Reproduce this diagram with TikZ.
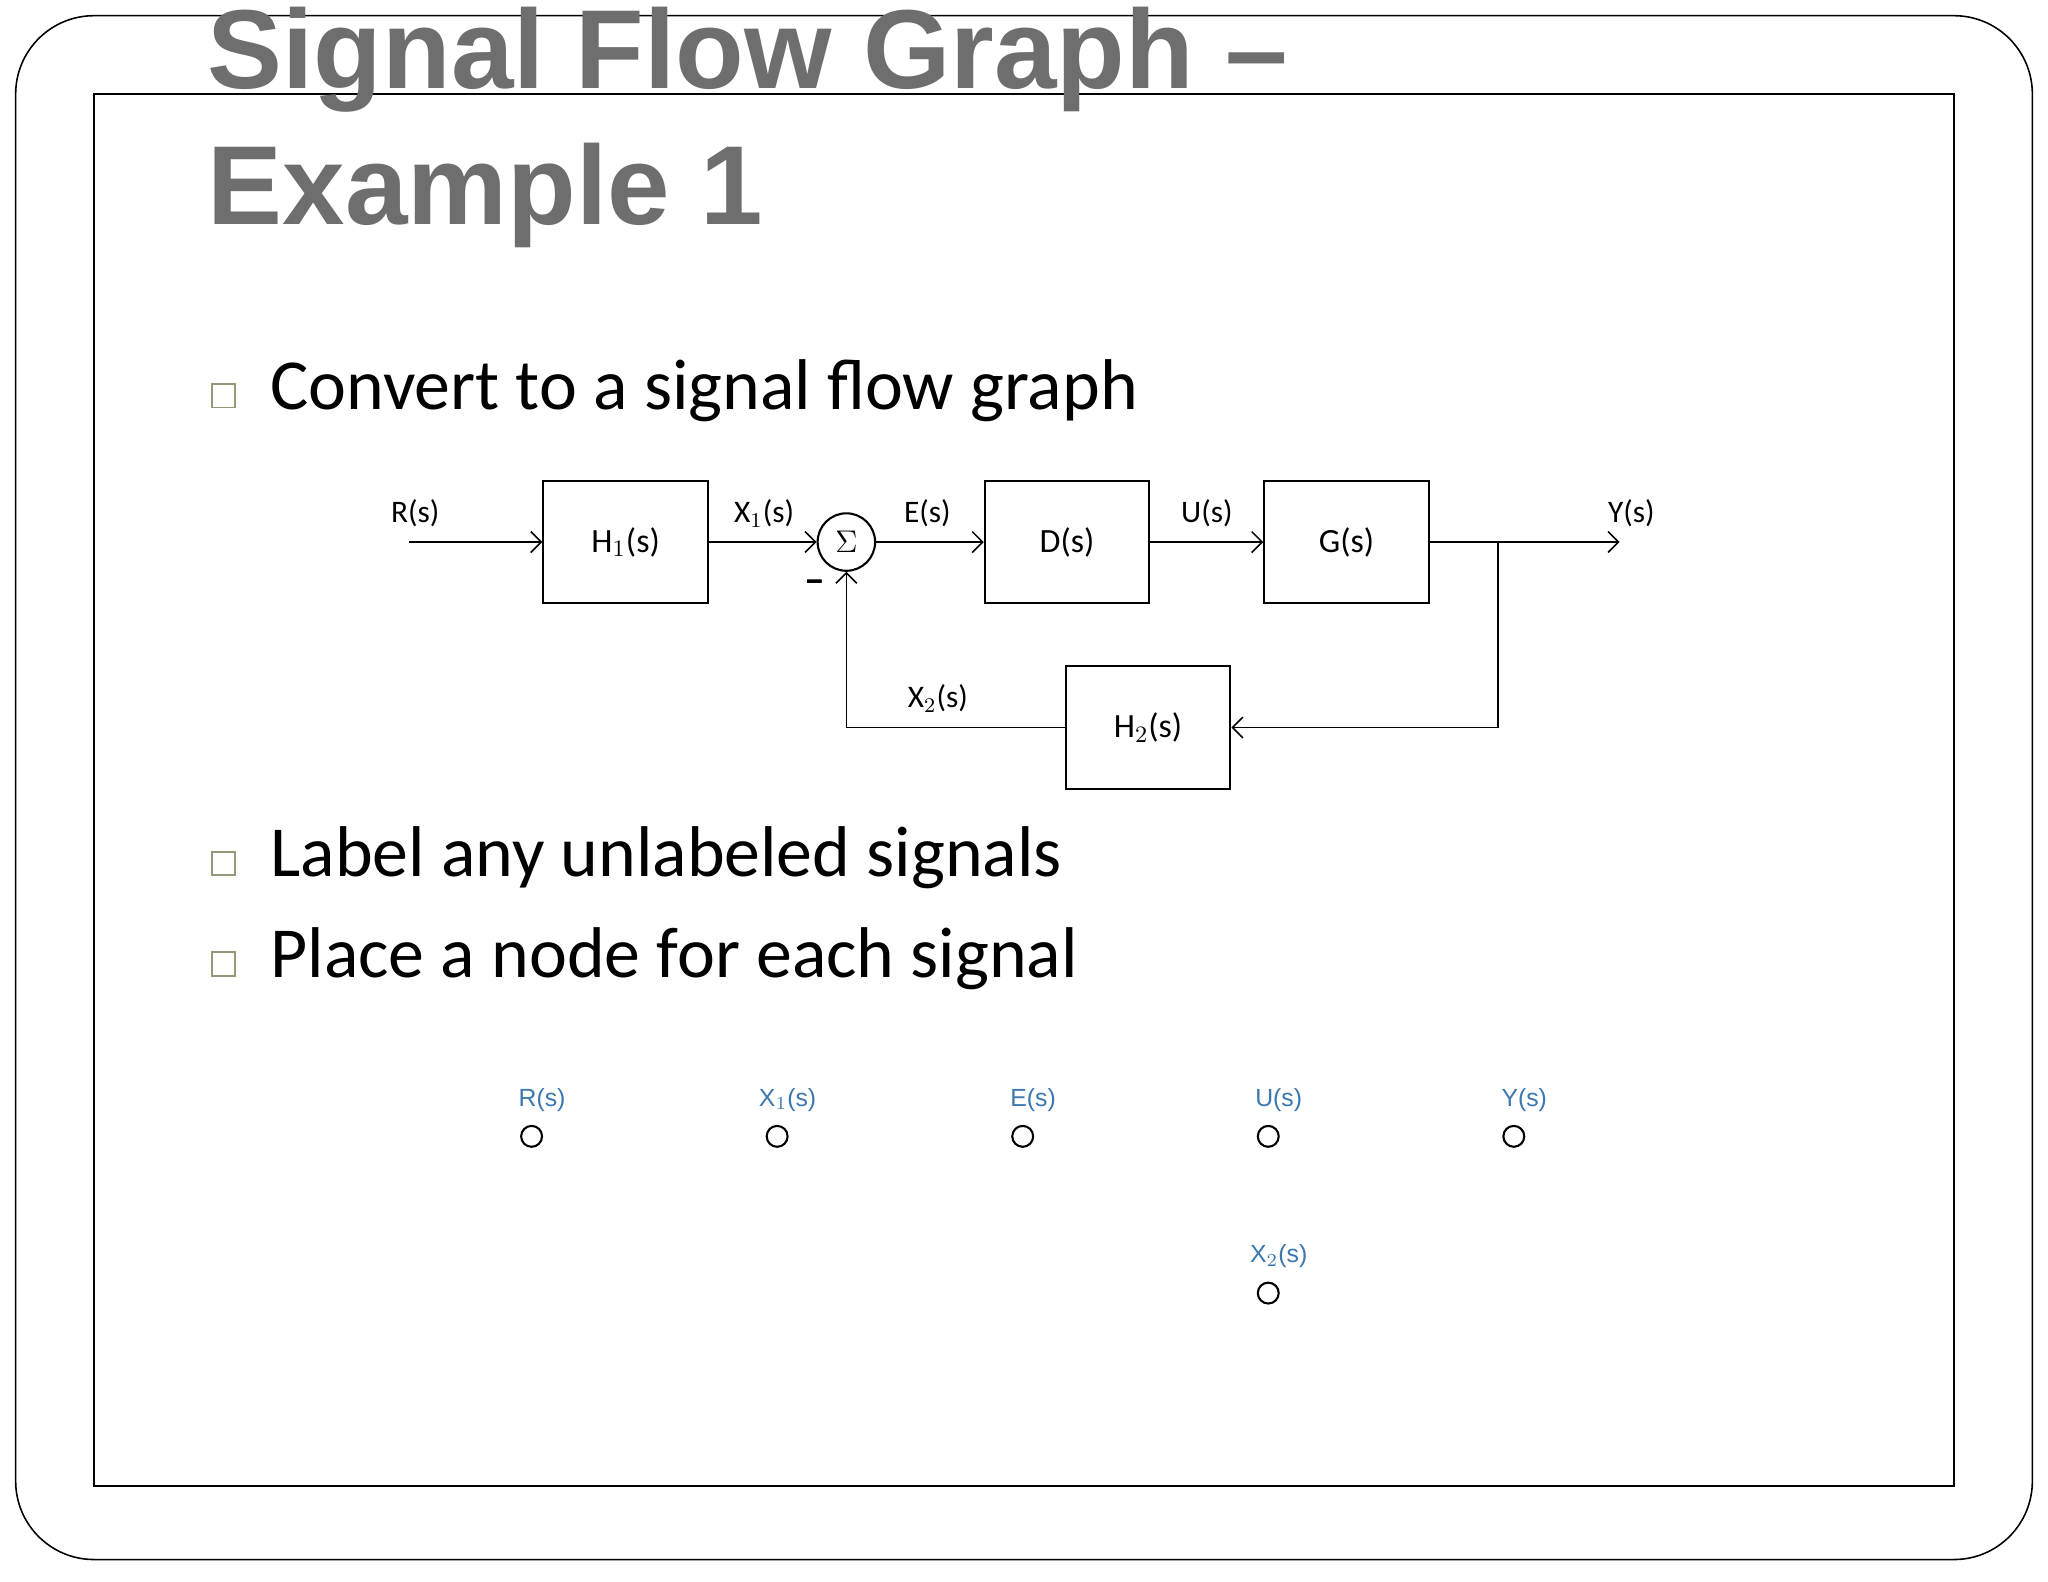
\documentclass[tikz,border=0pt]{standalone}
\usepackage{fontspec}
\setmainfont{Carlito}
\newfontfamily\titlefont{Liberation Sans}
\usetikzlibrary{arrows.meta}
\definecolor{titlegray}{RGB}{110,110,110}
\definecolor{bulletcol}{RGB}{150,150,120}
\definecolor{nodeblue}{RGB}{60,120,175}
\begin{document}
\begin{tikzpicture}[x=0.5pt,y=-0.5pt,
  blk/.style={draw, line width=0.8pt, minimum width=63pt, minimum height=47pt, font=\fontsize{13}{15}\selectfont},
  lbl/.style={font=\fontsize{12}{14}\selectfont},
  sig/.style={draw, line width=0.6pt, ->, >={Straight Barb[length=4pt]}},
  bullet/.style={draw=bulletcol, line width=0.7pt, minimum size=9pt, inner sep=0pt},
  btext/.style={anchor=west, font=\fontsize{27.5}{31}\selectfont},
  snode/.style={circle, draw, line width=0.8pt, minimum size=8pt, inner sep=0pt},
  slbl/.style={font=\titlefont\fontsize{9.5}{11}\selectfont, text=nodeblue},
  ttl/.style={anchor=west, text=titlegray, font=\titlefont\bfseries\fontsize{43}{48}\selectfont},
]
\useasboundingbox (0,0) rectangle (1568,1211);
\draw[line width=0.6pt, rounded corners=30pt] (12,12) rectangle (1556,1194);
\draw[line width=0.8pt, fill=white] (72,72) rectangle (1496,1138);
% title
\node[ttl] (t1) at (152,46) {Signal Flow Graph \textendash};
\node[ttl] (t2) at (152,150) {Example 1};
% bullets
\node[bullet] (b1) at (171,303) {};
\node[btext] (bt1) at (200,299) {Convert to a signal flow graph};
\node[bullet] (b2) at (171,661) {};
\node[btext] (bt2) at (200,657) {Label any unlabeled signals};
\node[bullet] (b3) at (171,738) {};
\node[btext] (bt3) at (200,734) {Place a node for each signal};
% block diagram
\coordinate (in) at (313,415);
\node[blk] (H1) at (479,415) {H$_1$(s)};
\node[circle, draw, line width=0.8pt, minimum size=22pt, inner sep=0pt, font=\fontsize{12}{14}\selectfont] (sum) at (648,415) {$\Sigma$};
\node[blk] (D) at (817,415) {D(s)};
\node[blk] (G) at (1031,415) {G(s)};
\node[blk] (H2) at (879,557) {H$_2$(s)};
\coordinate (br) at (1147,415);
\coordinate (out) at (1240,415);
\coordinate (fb) at (648,557);
\draw[sig] (in) -- (H1);
\draw[sig] (H1) -- (sum);
\draw[sig] (sum) -- (D);
\draw[sig] (D) -- (G);
\draw[sig] (G) -- (out);
\draw[sig] (br) |- (H2);
\draw[sig] (H2) -- (fb) -- (sum);
\node[lbl] (lR) at (318,393) {R(s)};
\node[lbl] (lX1) at (585,393) {X$_1$(s)};
\node[lbl] (lE) at (710,393) {E(s)};
\node[lbl] (lU) at (924,393) {U(s)};
\node[lbl] (lY) at (1249,393) {Y(s)};
\node[lbl] (lX2) at (718,535) {X$_2$(s)};
\node[font=\bfseries\fontsize{16}{16}\selectfont] (minus) at (624,449) {\textendash};
% signal nodes
\foreach \n/\x/\t in {R/407/R(s), X1/595/X$_1$(s), E/783/E(s), U/971/U(s), Y/1159/Y(s)}{
  \node[snode] (n\n) at (\x,870) {};
  \node[slbl] (l\n) at (\x+8,842) {\t};
}
\node[snode] (nX2) at (971,990) {};
\node[slbl] (lnX2) at (979,962) {X$_2$(s)};
\end{tikzpicture}
\end{document}
